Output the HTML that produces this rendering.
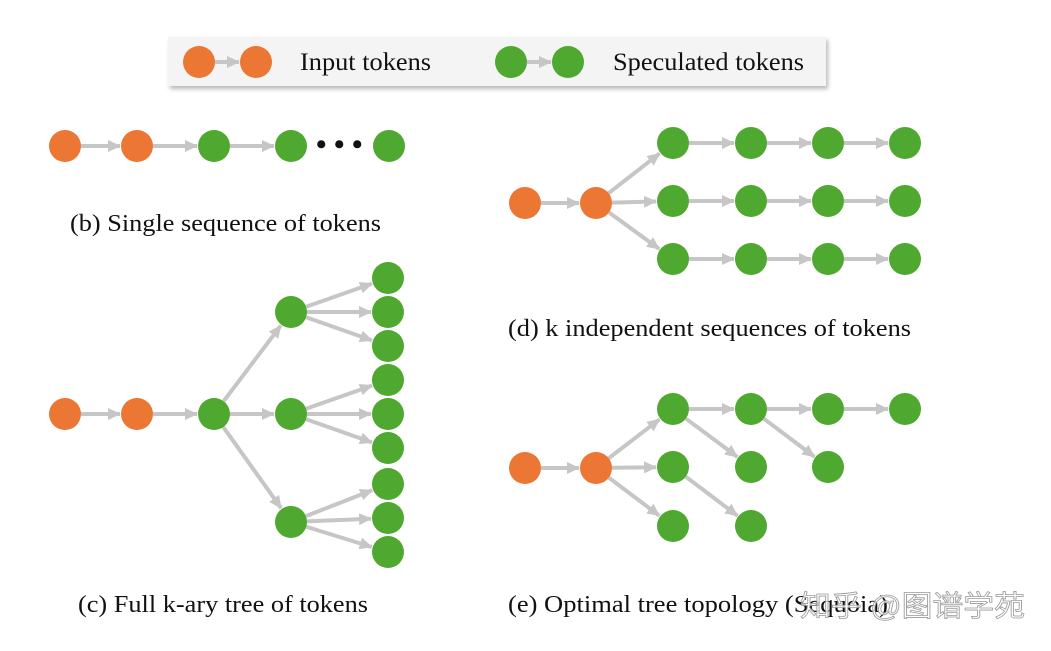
<!DOCTYPE html>
<html><head><meta charset="utf-8"><style>
html,body{margin:0;padding:0;background:#fff;}
svg{display:block;}
text{font-family:"Liberation Serif",serif;fill:#111;}
</style></head><body>
<svg id="s" width="1051" height="651" viewBox="0 0 1051 651" xmlns="http://www.w3.org/2000/svg">
<defs>
<marker id="a" markerWidth="13" markerHeight="12" refX="12" refY="6" orient="auto" markerUnits="userSpaceOnUse">
<path d="M0,0 L13,6 L0,12 z" fill="#c6c6c6"/></marker>
<filter id="sh" x="-5%" y="-20%" width="110%" height="150%"><feDropShadow dx="2" dy="3" stdDeviation="2" flood-color="#888" flood-opacity="0.6"/></filter>
</defs>
<rect x="168" y="37" width="658" height="49" fill="#f4f4f4" filter="url(#sh)"/>
<g id="edges"></g>
<g id="nodes"></g>
<text x="300" y="70" font-size="25" textLength="131" lengthAdjust="spacingAndGlyphs">Input tokens</text>
<text x="613" y="70" font-size="25" textLength="191" lengthAdjust="spacingAndGlyphs">Speculated tokens</text>
<text x="316" y="154" font-size="30" font-weight="bold">• • •</text>
<text x="70" y="231" font-size="24" textLength="311" lengthAdjust="spacingAndGlyphs">(b) Single sequence of tokens</text>
<text x="508" y="336" font-size="24" textLength="403" lengthAdjust="spacingAndGlyphs">(d) k independent sequences of tokens</text>
<text x="78" y="612" font-size="24" textLength="290" lengthAdjust="spacingAndGlyphs">(c) Full k-ary tree of tokens</text>
<text x="508" y="612" font-size="24" textLength="380" lengthAdjust="spacingAndGlyphs">(e) Optimal tree topology (Sequoia)</text>
<text x="800" y="616" font-size="29" textLength="225" lengthAdjust="spacingAndGlyphs" style="font-family:'Liberation Sans','Noto Sans CJK SC',sans-serif;fill:#fff;fill-opacity:0.75;stroke:#999;stroke-width:0.8">知乎 @图谱学苑</text>
</svg>
<script>
var O="#ec7634",G="#4fa82f",R=16;
var N={},E=[];
function n(k,x,y,c){N[k]=[x,y,c];}
function e(a,b){E.push([a,b]);}
n('l1',199,62,O);n('l2',256,62,O);n('l3',511,62,G);n('l4',568,62,G);e('l1','l2');e('l3','l4');
n('b1',65,146,O);n('b2',137,146,O);n('b3',214,146,G);n('b4',291,146,G);n('b5',389,146,G);
e('b1','b2');e('b2','b3');e('b3','b4');
n('d1',525,203,O);n('d2',596,203,O);e('d1','d2');
var dx=[673,751,828,905],dy=[143,201,259];
dy.forEach(function(y,i){dx.forEach(function(x,j){n('d'+i+j,x,y,G);if(j>0)e('d'+i+(j-1),'d'+i+j);});e('d2','d'+i+'0');});
n('c1',65,414,O);n('c2',137,414,O);n('c3',214,414,G);e('c1','c2');e('c2','c3');
var cy=[312,414,522],ly=[278,312,346,380,414,448,484,518,552];
cy.forEach(function(y,i){n('cc'+i,291,y,G);e('c3','cc'+i);for(var j=0;j<3;j++){var k=i*3+j;n('cl'+k,388,ly[k],G);e('cc'+i,'cl'+k);}});
n('e1',525,468,O);n('e2',596,468,O);e('e1','e2');
n('a1',673,409,G);n('a2',751,409,G);n('a3',828,409,G);n('a4',905,409,G);
n('m1',673,467,G);n('m2',751,467,G);n('m3',828,467,G);
n('z1',673,526,G);n('z2',751,526,G);
e('e2','a1');e('e2','m1');e('e2','z1');e('a1','a2');e('a1','m2');e('a2','a3');e('a2','m3');e('a3','a4');e('m1','z2');
var ns="http://www.w3.org/2000/svg",ge=document.getElementById('edges'),gn=document.getElementById('nodes');
E.forEach(function(p){var A=N[p[0]],B=N[p[1]];var vx=B[0]-A[0],vy=B[1]-A[1],L=Math.hypot(vx,vy);var ux=vx/L,uy=vy/L;
var l=document.createElementNS(ns,'line');l.setAttribute('x1',A[0]+ux*R);l.setAttribute('y1',A[1]+uy*R);l.setAttribute('x2',B[0]-ux*(R+1));l.setAttribute('y2',B[1]-uy*(R+1));
l.setAttribute('stroke','#c6c6c6');l.setAttribute('stroke-width','4');l.setAttribute('marker-end','url(#a)');ge.appendChild(l);});
for(var k in N){var c=document.createElementNS(ns,'circle');c.setAttribute('cx',N[k][0]);c.setAttribute('cy',N[k][1]);c.setAttribute('r',R);c.setAttribute('fill',N[k][2]);gn.appendChild(c);}
</script>
</body></html>
